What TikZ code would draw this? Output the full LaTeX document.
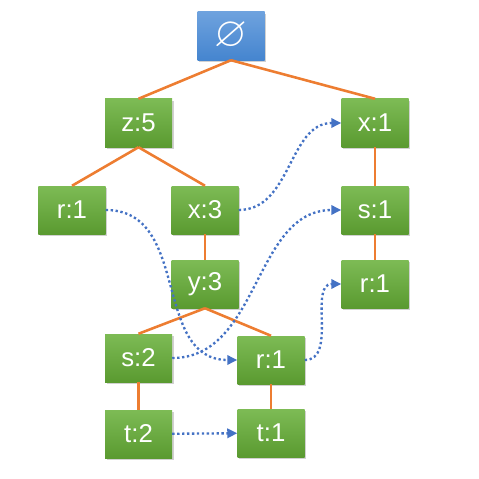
\documentclass[tikz,border=0pt]{standalone}
\usepackage{amssymb}
\usepackage{fontspec}
\setmainfont{Liberation Sans}
\usepackage{xcolor}
\usetikzlibrary{arrows.meta,positioning,shadows}
\definecolor{leaftop}{HTML}{7DBB55}
\definecolor{leafbot}{HTML}{5A9A30}
\definecolor{roottop}{HTML}{6EA2DE}
\definecolor{rootbot}{HTML}{4585CF}
\definecolor{edgeorange}{HTML}{ED7D31}
\definecolor{linkblue}{HTML}{4472C4}

\begin{document}
\begin{tikzpicture}[
  x=0.03cm, y=-0.03cm,
  item/.style={minimum width=2.01cm, minimum height=1.44cm, inner sep=0pt,
    top color=leaftop, bottom color=leafbot, text=white,
    font=\fontsize{22}{24}\selectfont,
    drop shadow={shadow xshift=0.5mm, shadow yshift=-0.5mm, fill=black, opacity=0.18}},
  rootbox/.style={item, top color=roottop, bottom color=rootbot,
    font=\fontsize{36}{38}\selectfont},
  tree/.style={draw=edgeorange, line width=2.2pt},
  link/.style={draw=linkblue, line width=2pt, dash pattern=on 2pt off 2.2pt,
    -{Triangle[length=3mm,width=2.8mm]}}
]
  \useasboundingbox (0,0) rectangle (479,479);

  % tree nodes
  \node[rootbox] (root) at (231,36) {$\varnothing$};
  \node[item] (z5) at (138.5,123) {z:5};
  \node[item] (x1) at (375,123) {x:1};
  \node[item] (r1a) at (72,210) {r:1};
  \node[item] (x3) at (205,210) {x:3};
  \node[item] (s1) at (375,210) {s:1};
  \node[item] (y3) at (205,284) {y:3};
  \node[item] (r1c) at (375,284) {r:1};
  \node[item] (s2) at (138.5,358) {s:2};
  \node[item] (r1b) at (271,360) {r:1};
  \node[item] (t2) at (138.5,434) {t:2};
  \node[item] (t1) at (271,433) {t:1};

  % parent -> child
  \draw[tree] (root.south) -- (z5.north);
  \draw[tree] (root.south) -- (x1.north);
  \draw[tree] (z5.south) -- (r1a.north);
  \draw[tree] (z5.south) -- (x3.north);
  \draw[tree] (x3) -- (y3);
  \draw[tree] (y3.south) -- (s2.north);
  \draw[tree] (y3.south) -- (r1b.north);
  \draw[tree] (s2) -- (t2);
  \draw[tree] (r1b) -- (t1);
  \draw[tree] (x1) -- (s1);
  \draw[tree] (s1) -- (r1c);

  % node links
  \draw[link] (r1a.east) to[out=0, in=180, looseness=1.1] (r1b.west);
  \draw[link] (x3.east) to[out=0, in=180] (x1.west);
  \draw[link] (s2.east) to[out=0, in=180] (s1.west);
  \draw[link] (r1b.east) to[out=0, in=180] (r1c.west);
  \draw[link] (t2) -- (t1);
\end{tikzpicture}
\end{document}
